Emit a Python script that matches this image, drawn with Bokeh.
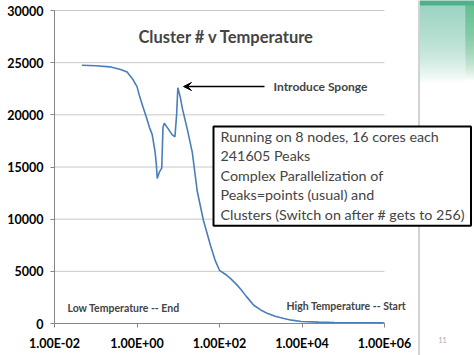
from bokeh.plotting import figure
from bokeh.models import (FixedTicker, Label, Arrow, VeeHead, BoxAnnotation, LinearAxis, LogAxis,
                          LogScale)
from bokeh.embed import file_html
from bokeh.resources import INLINE

# ---- data ----
temperature = [0.046, 0.1, 0.22, 0.4, 0.575, 0.79, 1.0, 1.17, 1.41, 1.74, 2.0, 2.34,
               2.75, 2.95, 3.09, 3.47, 3.98, 4.27, 4.57, 5.62, 7.08, 8.32, 9.12, 9.77,
               11.2, 12.6, 16.6, 21.9, 28.8, 40.7, 60.3, 79.4, 100, 141, 186, 251, 324,
               447, 676, 1000, 1480, 2240, 3630, 5620, 9550, 25100, 60300, 251000, 851000, 1000000]
clusters = [24750, 24700, 24600, 24350, 24100, 23400, 22700, 21700, 20700, 19600, 18800, 18100,
            16400, 15200, 13900, 14500, 14900, 18800, 19200, 18700, 18100, 17900, 20000, 22600,
            21700, 20600, 18600, 16400, 12700, 9900, 7500, 6000, 5100, 4700, 4300, 3800, 3300,
            2600, 1750, 1300, 950, 700, 480, 320, 190, 130, 100, 70, 60, 55]
x_ticks = [1e-2, 1e0, 1e2, 1e4, 1e6]
x_tick_labels = ["1.00E-02", "1.00E+00", "1.00E+02", "1.00E+04", "1.00E+06"]
y_ticks = [0, 5000, 10000, 15000, 20000, 25000, 30000]

title_text = "Cluster # v Temperature"
box_text = ("Running on 8 nodes, 16 cores each\n241605 Peaks\nComplex Parallelization of\n"
            "Peaks=points (usual) and\nClusters (Switch on after # gets to 256)")

FONT = "Lato"
W, H = 474, 355
# plot-area placement on the slide (pixels)
PL, PR, PT, PB = 54, 384, 10, 323
PX_DEC = (PR - PL) / 8.0           # pixels per decade (1e-2 .. 1e6)
PX_UNIT = (PB - PT) / 30000.0      # pixels per cluster


def X(px):
    return 10 ** (-2 + (px - PL) / PX_DEC)


def Y(py):
    return (PB - py) / PX_UNIT


p = figure(width=W, height=H, x_axis_type=None, y_axis_type=None,
           x_range=(X(0), X(W)), y_range=(Y(H), Y(0)),
           output_backend="svg", toolbar_location=None, min_border=0)
p.x_scale = LogScale()
p.outline_line_color = None
p.background_fill_color = "white"
p.border_fill_color = "white"
p.xgrid.visible = False
p.ygrid.visible = False

# slide decoration (gray divider and green gradient corner)
p.add_layout(BoxAnnotation(left=X(417.5), right=X(419.5), bottom=Y(H + 5), top=Y(-5),
                           fill_color="#d2d2d2", fill_alpha=1, line_alpha=0, level="underlay"))
n = 32
for i in range(n):
    bot = 6 + (n - i) * 2.4
    p.add_layout(BoxAnnotation(left=X(419.5), right=X(465), top=Y(4), bottom=Y(bot),
                               fill_color="#8ccfb6", fill_alpha=0.045, line_alpha=0,
                               level="underlay"))
    p.add_layout(BoxAnnotation(left=X(465), right=X(W + 5), top=Y(4), bottom=Y(bot - 3),
                               fill_color="#4fb38e", fill_alpha=0.06, line_alpha=0,
                               level="underlay"))
p.add_layout(BoxAnnotation(left=X(419.5), right=X(W + 5), top=Y(-5), bottom=Y(5),
                           fill_color="#4fb08c", fill_alpha=1, line_alpha=0, level="underlay"))

# grid lines (horizontal only) between the first and last x tick
p.segment(x0=[x_ticks[0]] * len(y_ticks[1:]), x1=[x_ticks[-1]] * len(y_ticks[1:]),
          y0=y_ticks[1:], y1=y_ticks[1:], line_color="#c8c8c8", line_width=1)

p.line(temperature, clusters, line_color="#4a7ebb", line_width=1.6)

# axes
xa = LogAxis(fixed_location=0, bounds=(x_ticks[0], x_ticks[-1]))
xa.ticker = FixedTicker(ticks=x_ticks)
xa.major_label_overrides = {t: l for t, l in zip(x_ticks, x_tick_labels)}
ya = LinearAxis(fixed_location=x_ticks[0], bounds=(y_ticks[0], y_ticks[-1]))
ya.ticker = FixedTicker(ticks=y_ticks)
for ax in (xa, ya):
    ax.axis_line_color = "#868686"
    ax.major_tick_line_color = "#868686"
    ax.major_tick_in = 0
    ax.major_tick_out = 4
    ax.minor_tick_line_color = None
    ax.major_label_text_font = FONT
    ax.major_label_text_font_style = "bold"
    ax.major_label_text_font_size = "12.5px"
    ax.major_label_text_color = "black"
xa.major_label_standoff = 8
ya.major_label_standoff = 7
p.add_layout(xa, "below")
p.add_layout(ya, "left")

# texts
p.add_layout(Label(x=X(226), y=Y(36), text=title_text, text_align="center", text_baseline="middle",
                   text_font=FONT, text_font_style="bold", text_font_size="16.5px"))
p.add_layout(Label(x=X(273), y=Y(86), text="Introduce Sponge", text_align="left",
                   text_baseline="middle", text_font=FONT, text_font_style="bold",
                   text_font_size="12px"))
p.add_layout(Arrow(x_start=X(264), y_start=Y(86), x_end=X(183), y_end=Y(86),
                   line_color="black", line_width=1.5,
                   end=VeeHead(size=8, fill_color="black", line_color="black")))
p.add_layout(Label(x=X(67), y=Y(307), text="Low Temperature -- End", text_align="left",
                   text_baseline="middle", text_font=FONT, text_font_style="bold",
                   text_font_size="10.5px"))
p.add_layout(Label(x=X(286), y=Y(305), text="High Temperature -- Start", text_align="left",
                   text_baseline="middle", text_font=FONT, text_font_style="bold",
                   text_font_size="10.5px"))
# padding given as (left, right, top, bottom)
p.add_layout(Label(x=X(213), y=Y(126), text=box_text, text_align="left", text_baseline="top",
                   text_font=FONT, text_font_size="14.3px", text_line_height=1.15,
                   background_fill_color="white", border_line_color="black", border_line_width=2,
                   padding=(7, 6, 1, 3)))
p.add_layout(Label(x=X(442), y=Y(339), text="11", text_align="center", text_baseline="middle",
                   text_font=FONT, text_font_size="7px", text_color="#a8a8a8"))

open("out.html", "w").write(file_html(p, INLINE))
